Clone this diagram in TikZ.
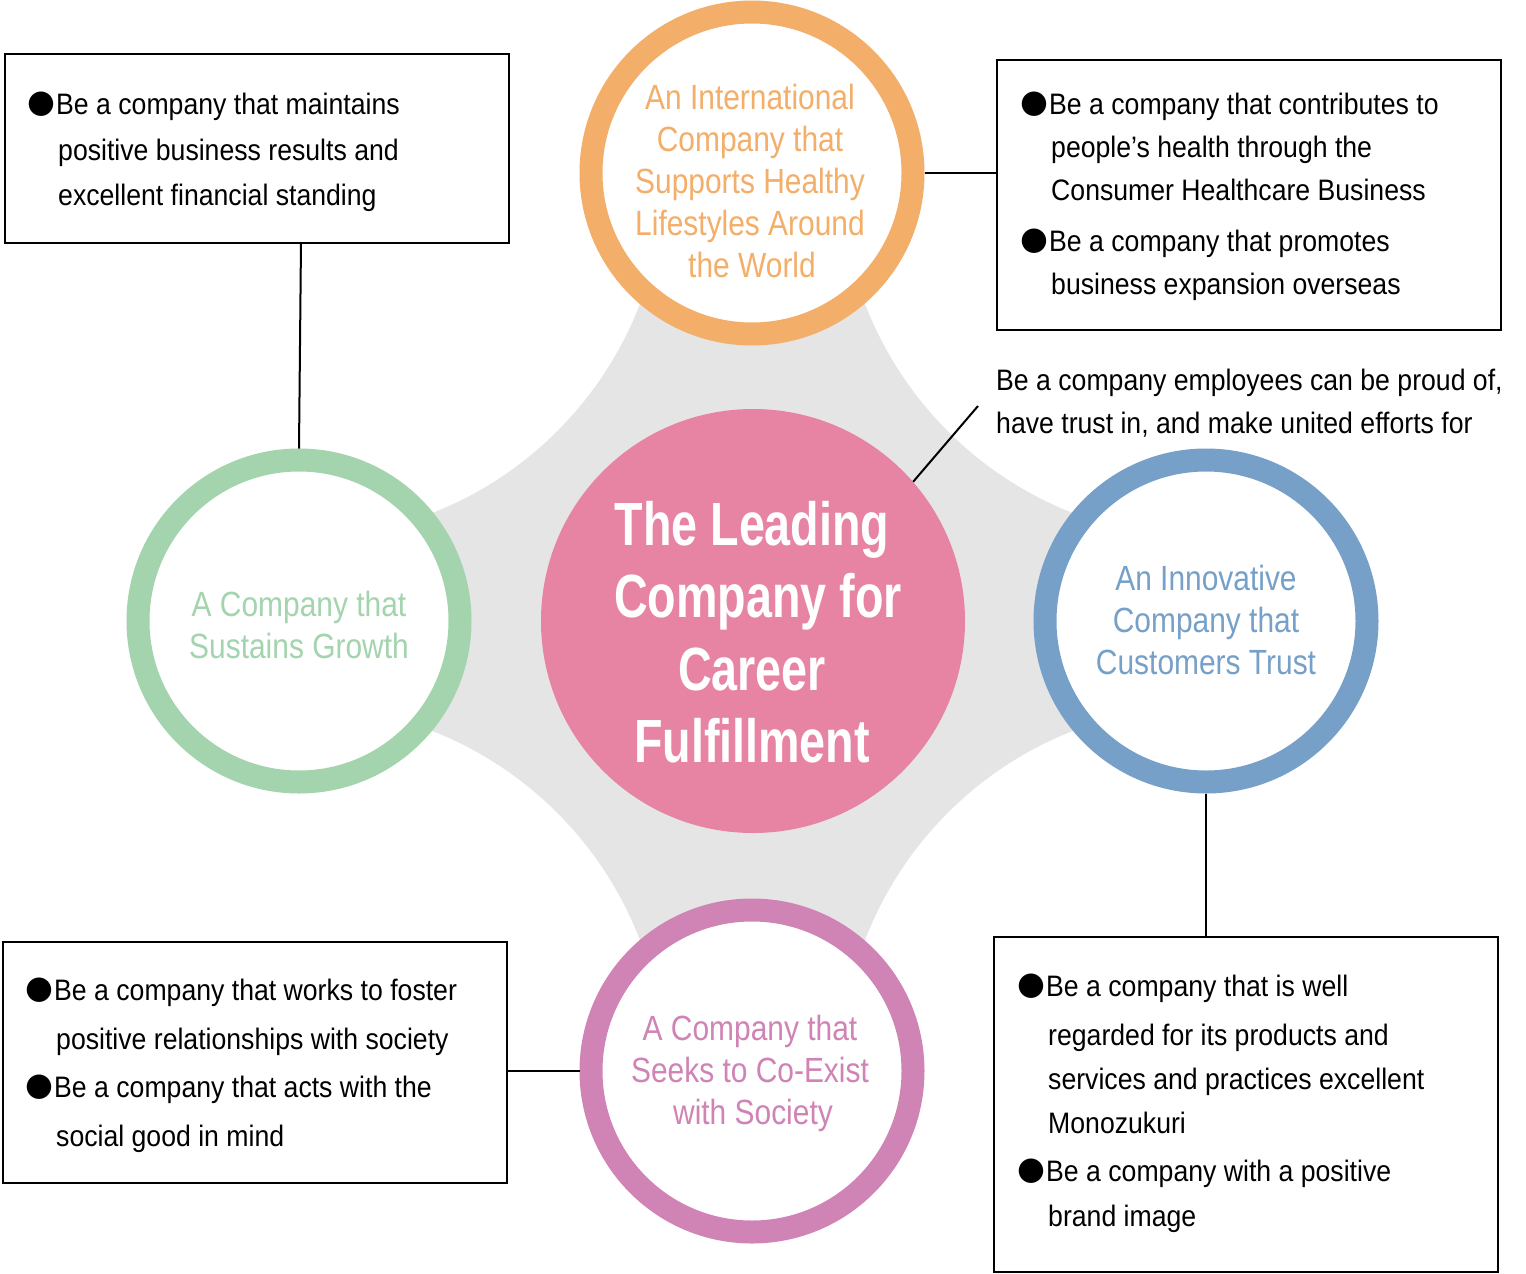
\documentclass[tikz,border=0pt]{standalone}
\usepackage{fontspec}
\setmainfont{Liberation Sans}[FakeStretch=0.9]
\newfontfamily\circfont{Liberation Sans}[FakeStretch=0.855]
\newfontfamily\titlefont{Liberation Sans}[FakeStretch=0.765]
\newfontfamily\bulfont{DejaVu Sans}
\definecolor{cOr}{HTML}{F3AE6A}
\definecolor{cGr}{HTML}{A3D4AE}
\definecolor{cBl}{HTML}{76A0C8}
\definecolor{cMg}{HTML}{D083B5}
\definecolor{cPk}{HTML}{E783A3}
\definecolor{cGy}{HTML}{E5E5E5}
\begin{document}
\begin{tikzpicture}[x=1pt,y=-1pt,
  body/.style={inner sep=0pt, anchor=base west, font=\fontsize{29.6}{29.6}\selectfont},
  note/.style={inner sep=0pt, anchor=base west, font=\fontsize{29.6}{29.6}\selectfont},
  bul/.style={inner sep=0pt, anchor=center, font=\bulfont\fontsize{32}{32}\selectfont},
  ctext/.style={inner sep=0pt, anchor=base, font=\circfont\fontsize{35}{35}\selectfont},
  ttext/.style={inner sep=0pt, anchor=base, text=white, font=\titlefont\bfseries\fontsize{61}{61}\selectfont},
  ring/.style={circle, minimum size=322pt, line width=23pt, fill=white, inner sep=0pt},
  infobox/.style={draw=black, line width=2pt, inner sep=0pt, anchor=north west},
  lead/.style={line width=2pt, draw=black}]
\useasboundingbox (0,0) rectangle (1526,1274);
\fill[white] (0,0) rectangle (1526,1274);
% gray concave backdrop
\coordinate (kT) at (752,173);
\coordinate (kL) at (299,621);
\coordinate (kR) at (1206,621);
\coordinate (kB) at (752,1071);
\begin{scope}
\clip (kL |- kT) rectangle (kR |- kB);
\fill[cGy] (kL |- kT) rectangle (kR |- kB);
\fill[white] (kL |- kT) circle[radius=365pt];
\fill[white] (kR |- kT) circle[radius=365pt];
\fill[white] (kL |- kB) circle[radius=365pt];
\fill[white] (kR |- kB) circle[radius=365pt];
\end{scope}
% circles
\node[circle, fill=cPk, minimum size=424pt, inner sep=0pt] (cC) at (753,621) {};
\node[ring, draw=cOr] (cT) at (kT) {};
\node[ring, draw=cGr] (cL) at (kL) {};
\node[ring, draw=cBl] (cR) at (kR) {};
\node[ring, draw=cMg] (cB) at (kB) {};
% boxes
\node[infobox, minimum width=504pt, minimum height=189pt] (bTL) at (4,53) {};
\node[infobox, minimum width=504pt, minimum height=270pt] (bTR) at (996,59) {};
\node[infobox, minimum width=504pt, minimum height=241pt] (bBL) at (2,941) {};
\node[infobox, minimum width=504pt, minimum height=335pt] (bBR) at (993,936) {};
% connectors
\coordinate (pTL) at (301,242);
\draw[lead] (pTL) -- (cL.north);
\draw[lead] (cT.east) -- (bTR.west |- cT.east);
\draw[lead] (cB.west) -- (bBL.east |- cB.west);
\draw[lead] (cR.south) -- (cR.south |- bBR.north);
\coordinate (nD) at (978,406);
\draw[lead] (cC.41.6) -- (nD);
% title
\node[ttext] (t1) at (752,545) {The Leading};
\node[ttext] (t2) at (758,617) {Company for};
\node[ttext] (t3) at (752,690) {Career};
\node[ttext] (t4) at (752,762) {Fulfillment};
% circle texts
\node[ctext, text=cOr] (o1) at (750,109) {An International};
\node[ctext, text=cOr] (o2) at (750,151) {Company that};
\node[ctext, text=cOr] (o3) at (750,193) {Supports Healthy};
\node[ctext, text=cOr] (o4) at (750,235) {Lifestyles Around};
\node[ctext, text=cOr] (o5) at (752,277) {the World};
\node[ctext, text=cGr] (g1) at (299,616) {A Company that};
\node[ctext, text=cGr] (g2) at (299,658) {Sustains Growth};
\node[ctext, text=cBl] (u1) at (1206,590) {An Innovative};
\node[ctext, text=cBl] (u2) at (1206,632) {Company that};
\node[ctext, text=cBl] (u3) at (1206,674) {Customers Trust};
\node[ctext, text=cMg] (m1) at (750,1040) {A Company that};
\node[ctext, text=cMg] (m2) at (750,1082) {Seeks to Co-Exist};
\node[ctext, text=cMg] (m3) at (753,1124) {with Society};
% top-left box text
\node[bul] (tlb1) at (41,104.5) {●};
\node[body] (tl1) at (56,114) {Be a company that maintains};
\node[body] (tl2) at (58,160) {positive business results and};
\node[body] (tl3) at (58,205) {excellent financial standing};
% top-right box text
\node[bul] (trb1) at (1034,104.5) {●};
\node[body] (tr1) at (1049,114) {Be a company that contributes to};
\node[body] (tr2) at (1051,157) {people’s health through the};
\node[body] (tr3) at (1051,200) {Consumer Healthcare Business};
\node[bul] (trb2) at (1034,241.5) {●};
\node[body] (tr4) at (1049,251) {Be a company that promotes};
\node[body] (tr5) at (1051,294) {business expansion overseas};
% note
\node[note] (n1) at (996,390) {Be a company employees can be proud of,};
\node[note] (n2) at (996,433) {have trust in, and make united efforts for};
% bottom-left box text
\node[bul] (blb1) at (39,990.5) {●};
\node[body] (bl1) at (54,1000) {Be a company that works to foster};
\node[body] (bl2) at (56,1049) {positive relationships with society};
\node[bul] (blb2) at (39,1087.5) {●};
\node[body] (bl3) at (54,1097) {Be a company that acts with the};
\node[body] (bl4) at (56,1146) {social good in mind};
% bottom-right box text
\node[bul] (brb1) at (1031,986.5) {●};
\node[body] (br1) at (1046,996) {Be a company that is well};
\node[body] (br2) at (1048,1045) {regarded for its products and};
\node[body] (br3) at (1048,1089) {services and practices excellent};
\node[body] (br4) at (1048,1133) {Monozukuri};
\node[bul] (brb2) at (1031,1171.5) {●};
\node[body] (br5) at (1046,1181) {Be a company with a positive};
\node[body] (br6) at (1048,1226) {brand image};
\end{tikzpicture}
\end{document}
